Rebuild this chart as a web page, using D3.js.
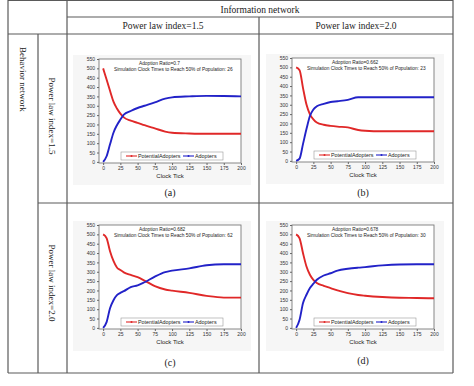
<html>
<head>
<script src="https://d3js.org/d3.v7.min.js"></script>
<style>
  body { margin: 0; background: #fff; }
  text { font-family: "Liberation Sans", Arial, sans-serif; }
  .serif { font-family: "Liberation Serif", "Times New Roman", serif; fill: #222; }
</style>
</head>
<body>
<svg id="chart" width="474" height="386"></svg>
<script>
// shared clock ticks for all panels
const ticks = [0, 5, 10, 15, 20, 25, 30, 40, 50, 60, 75, 90, 100, 125, 150, 175, 200];

// (a) behavior 1.5 / information 1.5
const potentialA = [500, 440, 380, 322, 285, 258, 238, 220, 209, 196, 179, 162, 156, 152, 150, 150, 150];
const adoptersA  = [0, 30, 94, 156, 196, 226, 253, 272, 288, 300, 318, 338, 345, 350, 353, 352, 350];
// (b) behavior 1.5 / information 2.0
const potentialB = [500, 485, 389, 301, 249, 222, 205, 193, 187, 183, 179, 165, 161, 158, 158, 158, 158];
const adoptersB  = [0, 12, 91, 170, 240, 275, 292, 305, 315, 319, 326, 340, 340, 340, 340, 340, 340];
// (c) behavior 2.0 / information 1.5
const potentialC = [500, 480, 410, 358, 323, 309, 297, 283, 271, 253, 223, 205, 199, 187, 171, 162, 162];
const adoptersC  = [0, 31, 105, 148, 175, 187, 196, 218, 227, 244, 274, 298, 306, 318, 335, 340, 340];
// (d) behavior 2.0 / information 2.0
const potentialD = [500, 479, 399, 328, 284, 257, 240, 225, 213, 200, 186, 176, 172, 165, 161, 160, 158];
const adoptersD  = [0, 44, 133, 177, 213, 236, 257, 280, 292, 306, 316, 322, 325, 334, 339, 340, 340];

const ratios = ["0.7", "0.662", "0.682", "0.678"];
const halfTimes = [26, 23, 62, 30];
const captions = ["(a)", "(b)", "(c)", "(d)"];
const yTicks = d3.range(0, 551, 50);
const xTicks = d3.range(0, 201, 25);

const svg = d3.select('#chart');

// ---- table grid ----
const grid = [
  [8, 0.5, 453, 0.5],
  [67, 17, 453, 17],
  [8, 34, 453, 34],
  [38, 203, 453, 203],
  [8, 373, 453, 373],
  [8, 0, 8, 373],
  [38, 34, 38, 373],
  [67, 0, 67, 373],
  [259, 17, 259, 373],
  [453, 0, 453, 373]
];
svg.selectAll('line.grid')
  .data(grid)
  .enter()
  .append('line')
  .attr('class', 'grid')
  .attr('x1', d => d[0]).attr('y1', d => d[1])
  .attr('x2', d => d[2]).attr('y2', d => d[3])
  .style('stroke', '#5a5a5a')
  .style('stroke-width', 1.2);

svg.append('text').attr('class', 'serif')
  .attr('x', 260).attr('y', 13).attr('text-anchor', 'middle')
  .style('font-size', '9.5px').text('Information network');
svg.append('text').attr('class', 'serif')
  .attr('x', 163).attr('y', 29).attr('text-anchor', 'middle')
  .style('font-size', '9.5px').text('Power law index=1.5');
svg.append('text').attr('class', 'serif')
  .attr('x', 356).attr('y', 29).attr('text-anchor', 'middle')
  .style('font-size', '9.5px').text('Power law index=2.0');

svg.append('text').attr('class', 'serif')
  .attr('transform', 'translate(20, 47) rotate(90)')
  .style('font-size', '9px').text('Behavior network');
svg.append('text').attr('class', 'serif')
  .attr('transform', 'translate(49, 116) rotate(90)')
  .attr('text-anchor', 'middle')
  .style('font-size', '9px').text('Power law index=1.5');
svg.append('text').attr('class', 'serif')
  .attr('transform', 'translate(49, 283) rotate(90)')
  .attr('text-anchor', 'middle')
  .style('font-size', '9px').text('Power law index=2.0');

// ---- panels ----
const panels = [
  {x: 99, y: 59, potential: potentialA, adopters: adoptersA, capY: 196},
  {x: 292, y: 58, potential: potentialB, adopters: adoptersB, capY: 196},
  {x: 99, y: 225, potential: potentialC, adopters: adoptersC, capY: 366},
  {x: 292, y: 225, potential: potentialD, adopters: adoptersD, capY: 364}
];
const pw = 142, ph = 104;

const xScale = d3.scaleLinear().domain([-6, 200]).range([0, pw]);
const yScale = d3.scaleLinear().domain([-6, 550]).range([ph, 0]);

const line = (vals) => d3.line()
  .x((d, i) => xScale(ticks[i]))
  .y(d => yScale(d))
  .curve(d3.curveMonotoneX)(vals);

panels.forEach((p, k) => {
  const g = svg.append('g').attr('transform', `translate(${p.x}, ${p.y})`);

  g.append('rect')
    .attr('x', -26).attr('y', -4).attr('width', pw + 36).attr('height', ph + 26)
    .style('fill', '#f6f6f6');
  g.append('rect')
    .attr('width', pw).attr('height', ph)
    .style('fill', '#fff').style('stroke', '#7a7a7a').style('stroke-width', 0.9);

  const yAxis = g.append('g')
    .call(d3.axisLeft(yScale).tickValues(yTicks).tickSize(2).tickPadding(2));
  const xAxis = g.append('g').attr('transform', `translate(0, ${ph})`)
    .call(d3.axisBottom(xScale).tickValues(xTicks).tickSize(2).tickPadding(1.5));
  [yAxis, xAxis].forEach(a => {
    a.select('.domain').remove();
    a.selectAll('line').style('stroke', '#666');
    a.selectAll('text').style('font-size', '5px').style('fill', '#333')
      .style('font-family', '"Liberation Sans", Arial, sans-serif');
  });

  g.append('text')
    .attr('x', pw / 2).attr('y', ph + 15).attr('text-anchor', 'middle')
    .style('font-size', '6px').style('fill', '#222').text('Clock Tick');

  g.append('text')
    .attr('x', 40).attr('y', 5.5)
    .style('font-size', '4.8px').style('fill', '#222')
    .text('Adoption Ratio=' + ratios[k]);
  g.append('text')
    .attr('x', 15).attr('y', 12)
    .style('font-size', '4.8px').style('fill', '#222')
    .text('Simulation Clock Times to Reach 50% of Population:  ' + halfTimes[k]);

  // curves
  g.append('path').attr('d', line(p.potential))
    .style('fill', 'none').style('stroke', '#e02828').style('stroke-width', 1.9);
  g.append('path').attr('d', line(p.adopters))
    .style('fill', 'none').style('stroke', '#2222c8').style('stroke-width', 1.9);

  // legend
  const lg = g.append('g').attr('transform', `translate(22, ${ph - 11})`);
  lg.append('rect').attr('width', 102).attr('height', 8)
    .style('fill', '#fff').style('stroke', '#999').style('stroke-width', 0.6);
  const items = [
    {label: 'PotentialAdopters', color: '#e02828', x: 5},
    {label: 'Adopters', color: '#2222c8', x: 62}
  ];
  items.forEach(it => {
    lg.append('line')
      .attr('x1', it.x).attr('x2', it.x + 11).attr('y1', 4).attr('y2', 4)
      .style('stroke', it.color).style('stroke-width', 1.1);
    lg.append('circle').attr('cx', it.x + 5.5).attr('cy', 4).attr('r', 1)
      .style('fill', it.color);
    lg.append('text').attr('x', it.x + 12).attr('y', 5.8)
      .style('font-size', '5.4px').style('fill', '#222').text(it.label);
  });

  svg.append('text').attr('class', 'serif')
    .attr('x', p.x + pw / 2).attr('y', p.capY).attr('text-anchor', 'middle')
    .style('font-size', '10px').text(captions[k]);
});
</script>
</body>
</html>
